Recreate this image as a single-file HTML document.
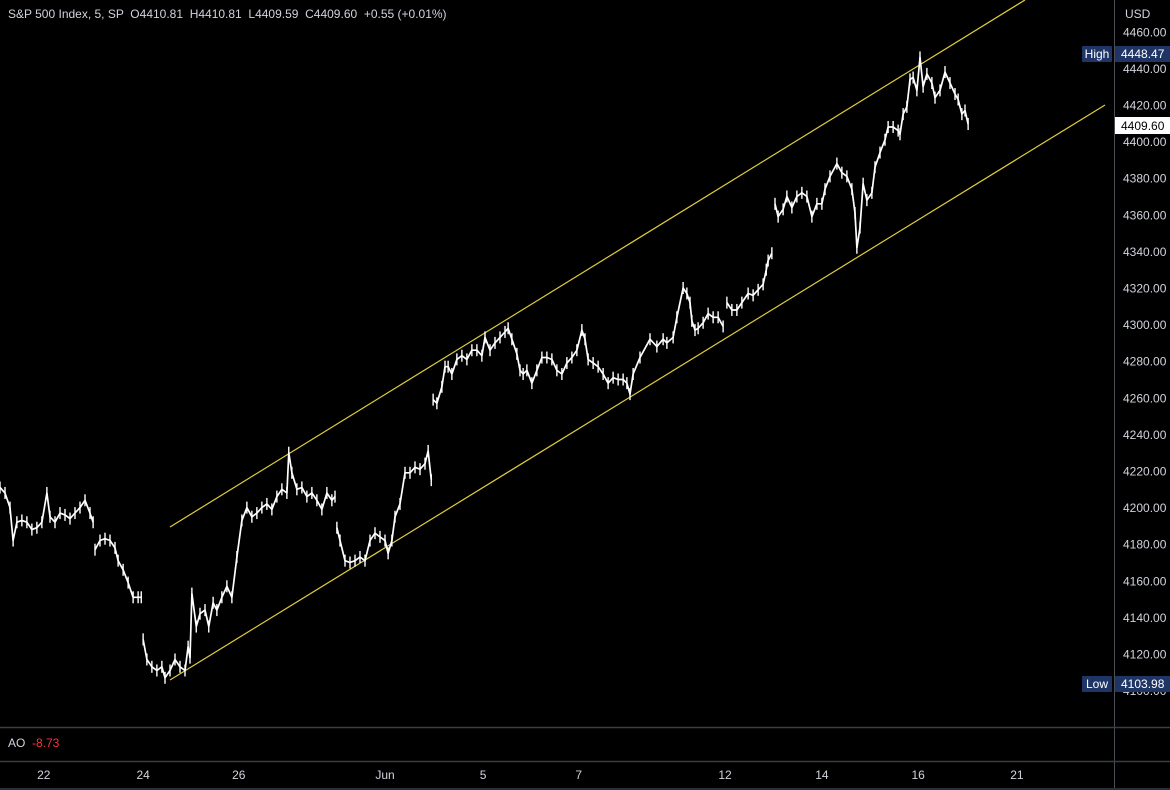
<!DOCTYPE html>
<html><head><meta charset="utf-8">
<style>
html,body{margin:0;padding:0;background:#000;}
body{width:1170px;height:790px;overflow:hidden;position:relative;font-family:"Liberation Sans",sans-serif;}
svg{position:absolute;left:0;top:0;}
</style></head>
<body>
<svg id="chart" width="1170" height="790"></svg>
<script>
const priceTicks=[4460,4440,4420,4400,4380,4360,4340,4320,4300,4280,4260,4240,4220,4200,4180,4160,4140,4120,4100];
const timeTicks=[{b:70,l:"22"},{b:229,l:"24"},{b:382,l:"26"},{b:616,l:"Jun"},{b:773,l:"5"},{b:926,l:"7"},{b:1160,l:"12"},{b:1315,l:"14"},{b:1469,l:"16"},{b:1627,l:"21"}];
const barTime=[0,8,16,21,27,35,43,51,59,67,75,80,88,96,104,112,120,128,136,144,149,null,
152,160,168,176,184,189,197,205,213,221,226,null,
229,235,243,251,259,264,272,280,288,296,301,304,307,314,320,328,334,341,347,355,363,371,379,387,395,403,411,419,427,435,443,451,459,462,467,475,483,491,499,507,515,523,531,536,null,
539,544,552,560,568,576,584,592,600,608,616,621,627,632,640,648,656,664,672,680,685,690,null,
693,699,707,712,717,723,731,739,747,755,763,771,776,784,792,800,808,813,819,827,832,837,843,851,859,867,875,883,891,899,907,915,923,931,936,941,949,957,965,973,981,989,997,1003,1008,1013,1024,1040,1051,1061,1067,1077,1083,1093,1099,1104,1107,1112,1117,1125,1133,1141,1149,1157,null,
1163,1171,1179,1187,1197,1205,1213,1221,1226,1229,1235,null,
1240,1245,1253,1259,1267,1275,1283,1291,1299,1307,1315,1320,1328,1339,1347,1355,1363,1368,1371,1376,1381,1387,1395,1400,1408,1416,1421,1429,1437,1440,1445,1451,1456,1461,1467,1472,1477,1483,1491,1496,1504,1512,1520,1528,1533,1539,1544,1549];
const closes=[4211,4208,4200,4182,4192,4193,4192,4188,4189,4192,4208,4195,4192,4197,4196,4194,4197,4200,4204,4197,4192,null,
4177,4182,4183,4182,4178,4171,4166,4159,4151,4151,4151,null,
4128,4117,4113,4111,4113,4107,4111,4117,4113,4111,4124,4118,4153,4135,4142,4144,4135,4148,4144,4151,4157,4151,4173,4193,4200,4195,4197,4200,4202,4199,4206,4210,4208,4230,4219,4210,4211,4206,4208,4204,4199,4208,4204,4206,null,
4189,4182,4171,4170,4171,4173,4171,4182,4186,4184,4182,4175,4182,4195,4202,4219,4219,4222,4221,4224,4231,4215,null,
4259,4257,4266,4277,4277,4273,4281,4283,4281,4286,4286,4283,4293,4286,4290,4293,4296,4298,4292,4284,4275,4273,4275,4268,4275,4282,4282,4281,4275,4273,4279,4282,4286,4297,4292,4281,4279,4277,4273,4268,4271,4270,4270,4268,4262,4273,4282,4292,4288,4292,4290,4293,4304,4320,4317,4312,4302,4297,4298,4301,4306,4304,4304,4299,null,
4312,4308,4308,4312,4317,4316,4319,4322,4330,4335,4339,null,
4366,4359,4363,4370,4364,4370,4372,4370,4359,4366,4366,4374,4381,4388,4383,4381,4374,4361,4342,4353,4377,4368,4372,4386,4394,4401,4408,4408,4406,4404,4415,4419,4434,4435,4428,4446,4430,4437,4432,4424,4428,4438,4432,4426,4423,4415,4417,4409.6];
const channelUpper={t:[272,1640],p:[4189.4,4477.4]};
const channelLower={t:[272,1768],p:[4105.8,4420]};

const NS="http://www.w3.org/2000/svg";
const svg=document.getElementById('chart');
const X=b=>b*0.625;
const Y=v=>654-(v-4120)*1.83;
function mk(tag,attrs,parent){const e=document.createElementNS(NS,tag);for(const k in attrs)e.setAttribute(k,attrs[k]);(parent||svg).appendChild(e);return e;}

const defs=mk('defs',{});const cp=mk('clipPath',{id:'pane'},defs);mk('rect',{x:0,y:0,width:1114,height:726},cp);
const g=mk('g',{'clip-path':'url(#pane)'});



[channelUpper,channelLower].forEach((c,i)=>{
 const l=mk('line',{x1:X(c.t[0]),y1:Y(c.p[0]),x2:X(c.t[1]),y2:Y(c.p[1]),stroke:'#e0cd3a','stroke-width':1.2},g);
 
 
});

let seg=[];const segs=[];
for(let i=0;i<closes.length;i++){
 if(closes[i]===null){if(seg.length)segs.push(seg);seg=[];}
 else seg.push([X(barTime[i]),Y(closes[i])]);
}
if(seg.length)segs.push(seg);
segs.forEach((s,k)=>{
 const p=mk('polyline',{points:s.map(q=>q[0].toFixed(1)+','+q[1].toFixed(1)).join(' '),fill:'none',stroke:'#fff','stroke-width':1.7,'stroke-linejoin':'round'},g);
 
 
 s.forEach(q=>{mk('line',{x1:q[0],y1:q[1]-6,x2:q[0],y2:q[1]+6,stroke:'#fff','stroke-width':1.4},g);});
});

mk('line',{x1:1114.5,y1:0,x2:1114.5,y2:790,stroke:'#4a4d55','stroke-width':1});
mk('line',{x1:0,y1:727.5,x2:1170,y2:727.5,stroke:'#3a3d45','stroke-width':1.5});
mk('line',{x1:0,y1:761.5,x2:1170,y2:761.5,stroke:'#3a3d45','stroke-width':1.5});
mk('line',{x1:0,y1:789,x2:1170,y2:789,stroke:'#2a2e39','stroke-width':2});

priceTicks.forEach(v=>{
 const t=mk('text',{x:1123,y:Y(v)+4.5,fill:'#d1d4dc','font-size':12});
 t.textContent=v.toFixed(2);
 
 
});
const usd=mk('text',{x:1125,y:18,fill:'#d1d4dc','font-size':12});usd.textContent='USD';



function tag(y,label,value,name){
 mk('rect',{x:1082,y:y,width:30,height:16,fill:'#1e3566',rx:1});
 const a=mk('text',{x:1097,y:y+12,fill:'#fff','font-size':12,'text-anchor':'middle'});a.textContent=label;
 const r=mk('rect',{x:1115,y:y,width:55,height:16,fill:'#1e3566'});
 
 
 const b=mk('text',{x:1121,y:y+12,fill:'#fff','font-size':12});b.textContent=value;
}
tag(46,'High','4448.47','high-price-tag');
tag(676,'Low','4103.98','low-price-tag');
const lr=mk('rect',{x:1115,y:117,width:55,height:17,fill:'#fff'});


const lt=mk('text',{x:1121,y:130,fill:'#000','font-size':12});lt.textContent='4409.60';

timeTicks.forEach(o=>{
 const t=mk('text',{x:X(o.b),y:779,fill:'#d1d4dc','font-size':12,'text-anchor':'middle'});
 t.textContent=o.l;
 
 
});

const h=mk('text',{x:8,y:18,fill:'#d1d4dc','font-size':12});
h.textContent='S&P 500 Index, 5, SP  O4410.81  H4410.81  L4409.59  C4409.60  +0.55 (+0.01%)';
h.setAttribute('xml:space','preserve');h.style.whiteSpace='pre';



const ao=mk('text',{x:8,y:747,fill:'#d1d4dc','font-size':12});ao.textContent='AO';


const av=mk('text',{x:32,y:747,fill:'#f23645','font-size':12});av.textContent='-8.73';


</script>
</body></html>
